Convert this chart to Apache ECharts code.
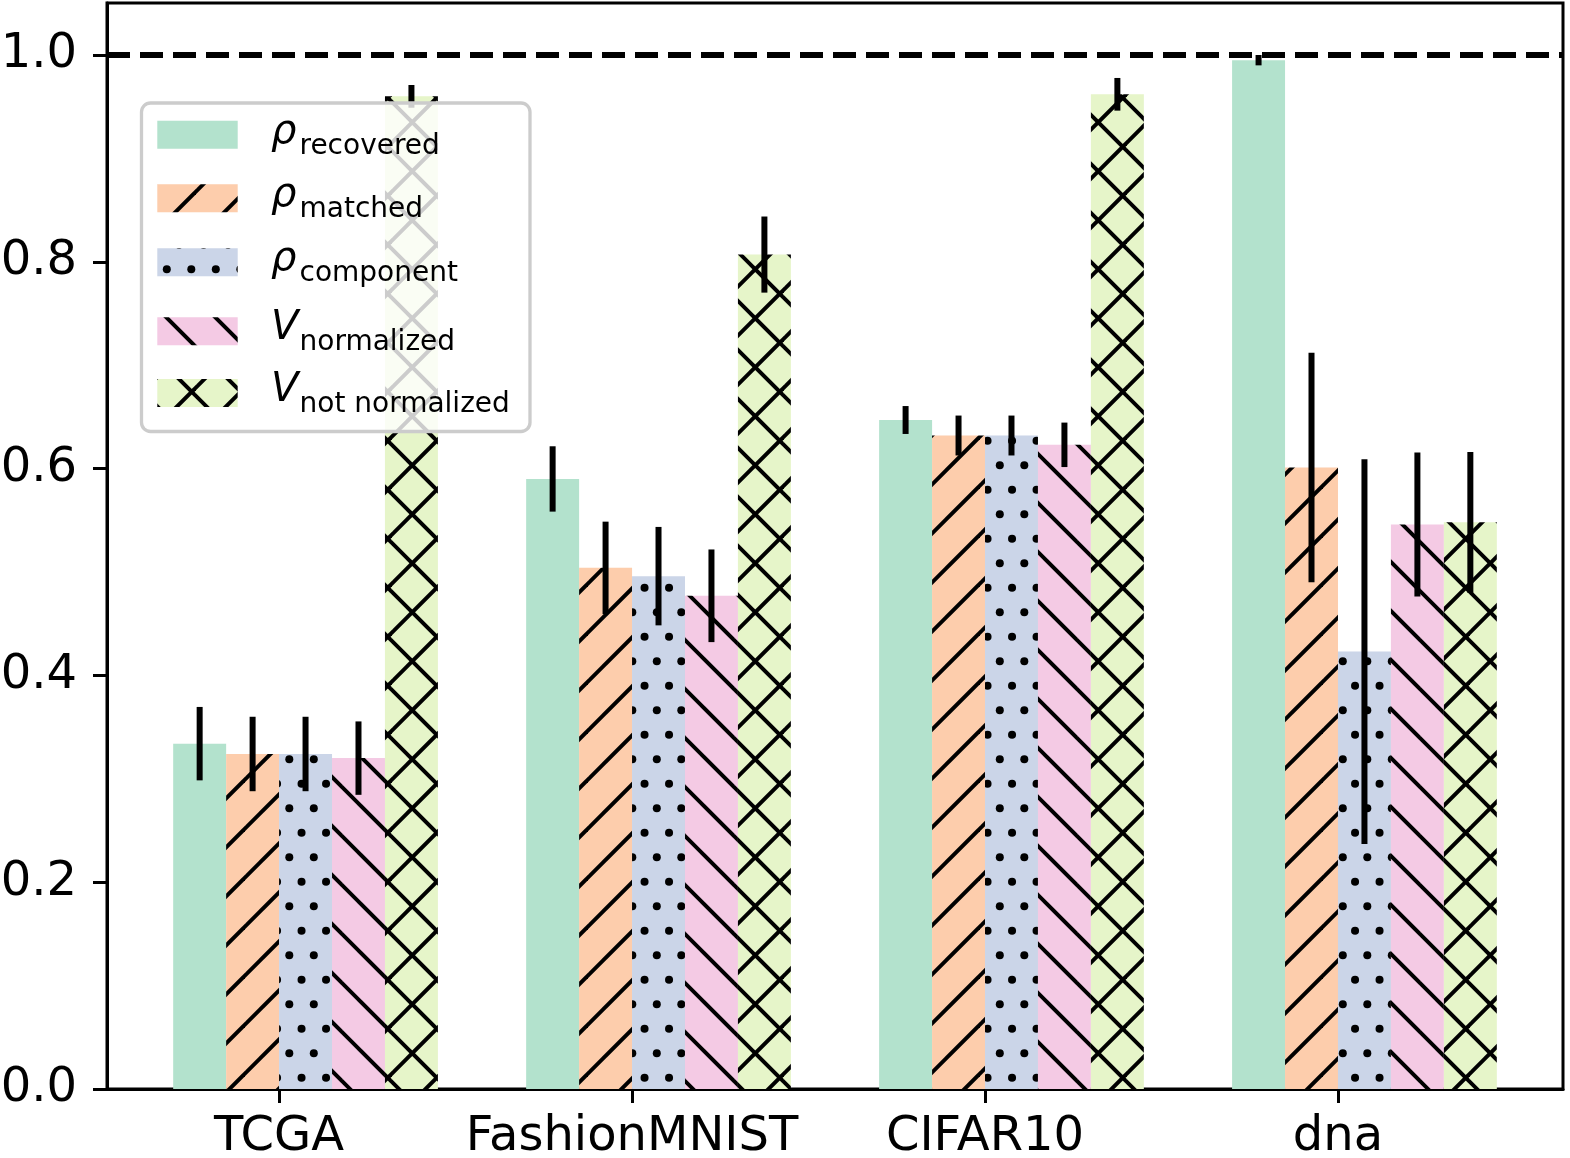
<!DOCTYPE html>
<html><head><meta charset="utf-8">
<script src="https://cdn.jsdelivr.net/npm/echarts@6/dist/echarts.min.js"></script>
<style>html,body{margin:0;padding:0;background:#fff}#c{width:1570px;height:1158px}</style>
</head><body><div id="c"></div><script>
// ---------------- data ----------------
const categories = ['TCGA', 'FashionMNIST', 'CIFAR10', 'dna'];
const seriesSymbols = ['ρ', 'ρ', 'ρ', 'V', 'V'];
const seriesSubs = ['recovered', 'matched', 'component', 'normalized', 'not normalized'];
const recoveredMean = [0.334, 0.590, 0.647, 0.995];
const recoveredStd  = [0.0355, 0.0316, 0.0135, 0.005];
const matchedMean = [0.324, 0.504, 0.632, 0.601];
const matchedStd  = [0.036, 0.0447, 0.0193, 0.111];
const componentMean = [0.324, 0.496, 0.632, 0.423];
const componentStd  = [0.036, 0.0476, 0.0193, 0.186];
const normalizedMean = [0.320, 0.477, 0.623, 0.546];
const normalizedStd  = [0.0355, 0.0448, 0.0215, 0.0696];
const notNormalizedMean = [0.960, 0.807, 0.962, 0.548];
const notNormalizedStd  = [0.011, 0.0368, 0.0158, 0.068];
const yTicks = [0, 0.2, 0.4, 0.6, 0.8, 1.0];
const xTicks = [0, 1, 2, 3];
const referenceLine = 1.0;

// ---------------- styles ----------------
const colors = ['#b3e2cd', '#fdcdac', '#cbd5e8', '#f4cae4', '#e6f5c9'];
const hatches = ['', '/', '.', '\\', 'x'];
const FONT = '"DejaVu Sans", sans-serif';
const T = 49;
function makePattern(bg, kind) {
  const c = document.createElement('canvas'); c.width = T; c.height = T;
  const g = c.getContext('2d');
  g.fillStyle = bg; g.fillRect(0, 0, T, T);
  g.strokeStyle = '#000'; g.fillStyle = '#000'; g.lineWidth = 4; g.lineCap = 'butt';
  const A = 44.5, B = 45;
  if (kind === '/' || kind === 'x') {
    for (let k = -2; k <= 2; k++) { const c0 = A + k * T; g.beginPath(); g.moveTo(c0 + 3, -3); g.lineTo(c0 - T - 3, T + 3); g.stroke(); }
  }
  if (kind === '\\' || kind === 'x') {
    for (let k = -2; k <= 2; k++) { const c0 = B + k * T; g.beginPath(); g.moveTo(c0 - 3, -3); g.lineTo(c0 + T + 3, T + 3); g.stroke(); }
  }
  if (kind === '.') {
    const pts = [[19.8, 24.3], [44.3, 24.3], [7.55, 48.8], [32.05, 48.8]];
    for (const [px, py] of pts) for (let dx = -T; dx <= T; dx += T) for (let dy = -T; dy <= T; dy += T) {
      g.beginPath(); g.arc(px + dx, py + dy, 4, 0, Math.PI * 2); g.fill();
    }
  }
  return c;
}
const patterns = colors.map((c, k) => ({ image: makePattern(c, hatches[k]), repeat: 'repeat' }));

const means = [recoveredMean, matchedMean, componentMean, normalizedMean, notNormalizedMean];
const stds = [recoveredStd, matchedStd, componentStd, normalizedStd, notNormalizedStd];

const W = 1570, H = 1158;
const grid = { left: 107, right: 7, top: 3, bottom: 69 };
const xMin = -0.4875, xMax = 3.6375;
const barW = 0.15;
const pxPerUnit = (W - grid.left - grid.right) / (xMax - xMin);

const chart = echarts.init(document.getElementById('c'), null, { renderer: 'canvas' });

const series = means.map((m, k) => ({
  type: 'bar',
  name: seriesSymbols[k] + '_' + seriesSubs[k],
  barWidth: barW * pxPerUnit,
  barGap: '-100%',
  data: m.map((v, i) => [i + (k - 1.5) * barW, v]),
  itemStyle: { color: patterns[k] },
  silent: true,
  z: 2
}));
series[0].markLine = {
  silent: true, symbol: 'none', animation: false,
  label: { show: false },
  lineStyle: { color: '#000', width: 6, type: [23, 10], dashOffset: 0 },
  data: [{ yAxis: referenceLine }],
  z: 5
};
const errData = [];
means.forEach((m, k) => m.forEach((v, i) => errData.push([i + (k - 1.5) * barW, v - stds[k][i], v + stds[k][i]])));
series.push({
  type: 'custom', name: 'err', silent: true, z: 4,
  encode: { x: 0, y: [1, 2] },
  data: errData,
  renderItem: (params, api) => {
    const x = api.value(0);
    const p1 = api.coord([x, api.value(1)]), p2 = api.coord([x, api.value(2)]);
    return { type: 'line', shape: { x1: p1[0], y1: p1[1], x2: p2[0], y2: p2[1] }, style: { stroke: '#000', lineWidth: 6 } };
  }
});

// legend drawn as graphic
const legendRows = [134.7, 198.3, 262.2, 331.3, 393];
const legendEls = [{
  type: 'rect', z: 100, shape: { x: 141.5, y: 103, width: 388.5, height: 328.5, r: 9 },
  style: { fill: 'rgba(255,255,255,0.8)', stroke: '#cccccc', lineWidth: 3.3 }
}];
legendRows.forEach((cy, k) => {
  legendEls.push({ type: 'rect', z: 101, shape: { x: 157.3, y: cy - 14, width: 80.4, height: 28 }, style: { fill: patterns[k] } });
  legendEls.push({ type: 'text', z: 101, style: { x: 271, y: cy + 11.5 - 0.346 * 40, text: seriesSymbols[k], font: 'italic 40px ' + FONT, fill: '#000', align: 'left', verticalAlign: 'middle' } });
  legendEls.push({ type: 'text', z: 101, style: { x: 299.5, y: cy + 21.5 - 0.346 * 28, text: seriesSubs[k], font: '28px ' + FONT, fill: '#000', align: 'left', verticalAlign: 'middle' } });
});

chart.setOption({
  animation: false,
  backgroundColor: '#fff',
  textStyle: { fontFamily: FONT },
  grid: Object.assign({ show: true, borderColor: '#000', borderWidth: 3, backgroundColor: 'transparent', containLabel: false, outerBoundsMode: 'none' }, grid),
  xAxis: {
    type: 'value', min: xMin, max: xMax,
    axisLine: { show: true, onZero: false, lineStyle: { color: '#000', width: 3 } },
    axisTick: { show: true, customValues: xTicks, length: 14, lineStyle: { color: '#000', width: 3 } },
    axisLabel: { customValues: xTicks, formatter: v => categories[Math.round(v)] || '', fontSize: 48, color: '#000', fontFamily: FONT, margin: 25 },
    splitLine: { show: false }
  },
  yAxis: {
    type: 'value', min: 0, max: 1.0503,
    axisLine: { show: true, onZero: false, lineStyle: { color: '#000', width: 3 } },
    axisTick: { show: true, customValues: yTicks, length: 14, lineStyle: { color: '#000', width: 3 } },
    axisLabel: { customValues: yTicks, formatter: v => v.toFixed(1), fontSize: 48, color: '#000', fontFamily: FONT, margin: 30 },
    splitLine: { show: false }
  },
  series: series,
  graphic: legendEls
});
</script></body></html>
